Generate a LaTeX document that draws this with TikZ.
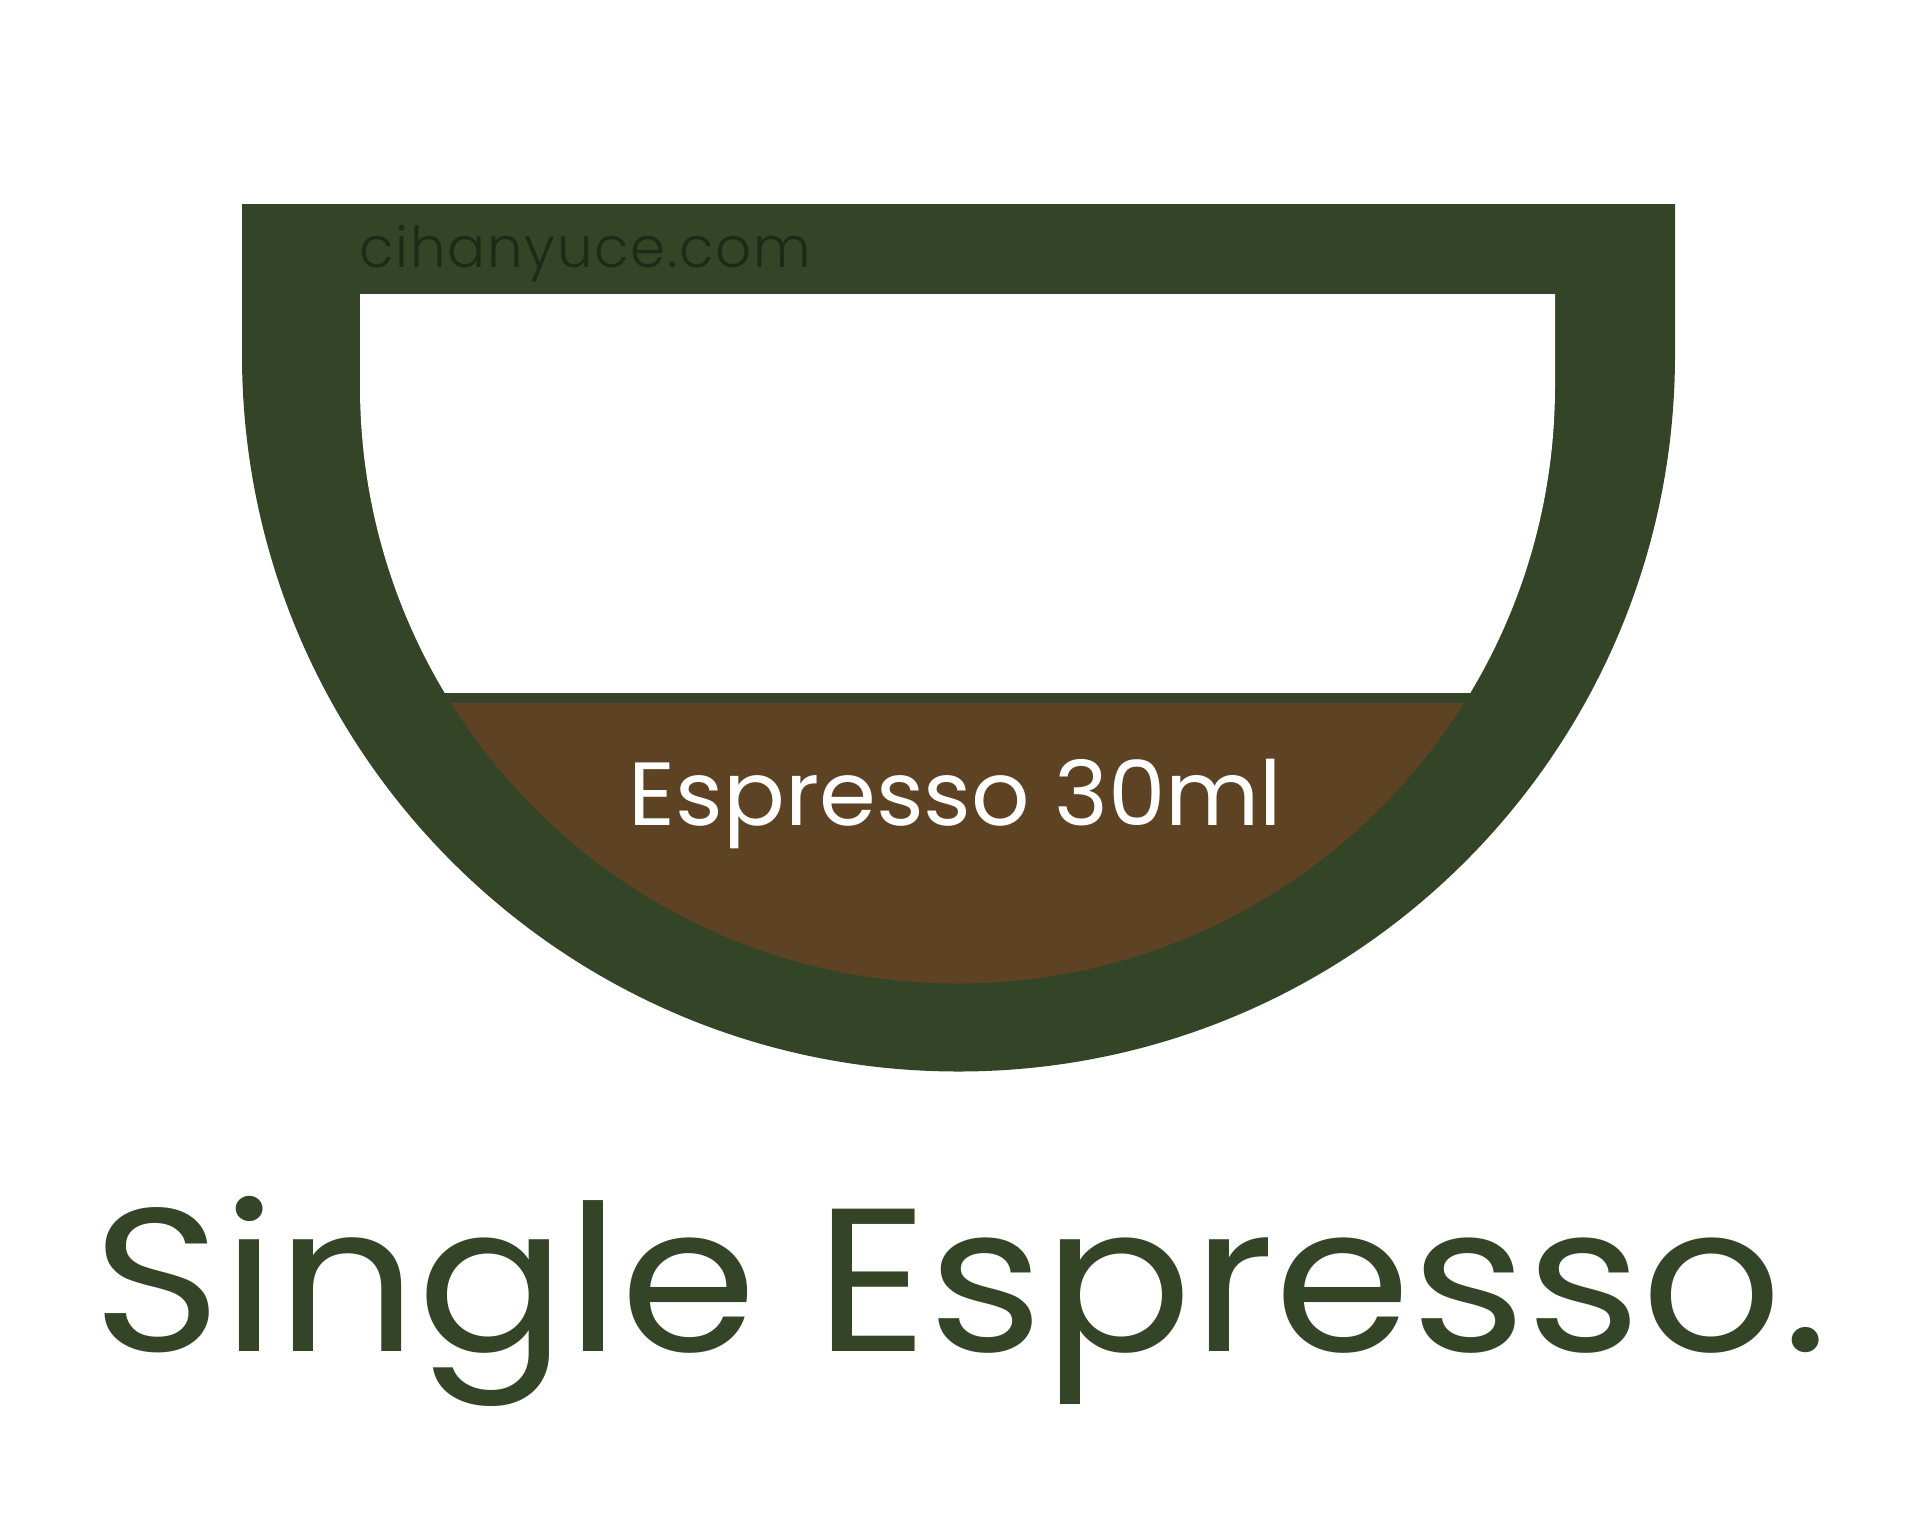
\documentclass[tikz,border=0pt]{standalone}
\usepackage{fontspec}
\setmainfont{Poppins}
\newfontfamily\brandfont[LetterSpace=3]{Poppins Light}
\newfontfamily\titlefont[FakeStretch=1.08]{Poppins}
\newfontfamily\shotfont[FakeStretch=1.02]{Poppins}
\usepackage{xcolor}
\definecolor{cupGreen}{HTML}{344427}
\definecolor{espressoBrown}{HTML}{5E4224}
\definecolor{brandInk}{HTML}{1E2A17}
\tikzset{
  every label text/.style={inner sep=0pt,anchor=base west},
  cup wall/.style={fill=cupGreen},
  cup inside/.style={fill=white},
  espresso/.style={fill=espressoBrown},
}
\begin{document}
\begin{tikzpicture}[x=0.01cm,y=-0.01cm]
\useasboundingbox (0,0) rectangle (1920,1520);
% cup body
\fill[cup wall] (242,204) -- (1675,204) -- (1675,355)
  arc[start angle=0,end angle=180,radius=716.5] -- cycle;
% inside: espresso at the bottom, white above, green line between
\begin{scope}
  \clip (360,294) -- (1555,294) -- (1555,386)
    arc[start angle=0,end angle=180,radius=597.5] -- cycle;
  \fill[espresso] (0,703) rectangle (1920,1100);
  \fill[cup inside] (0,0) rectangle (1920,693);
\end{scope}
% texts
\node[every label text,text=brandInk,font=\brandfont\fontsize{16}{16}\selectfont] (brand) at (359,267) {cihanyuce.com};
\node[every label text,text=white,font=\shotfont\fontsize{25.5}{26}\selectfont] (shot) at (628,825) {Espresso 30ml};
\node[every label text,text=cupGreen,font=\titlefont\fontsize{58}{60}\selectfont] (title) at (92,1351) {Single Espresso.};
\end{tikzpicture}
\end{document}
